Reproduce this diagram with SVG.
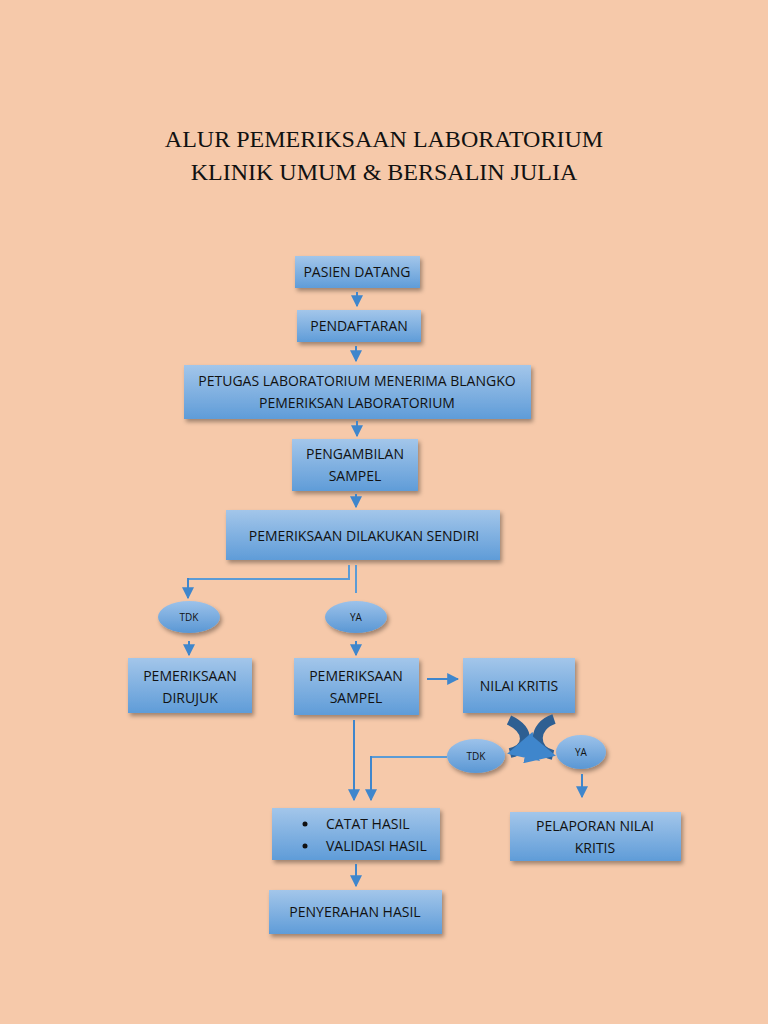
<svg xmlns="http://www.w3.org/2000/svg" width="768" height="1024" viewBox="0 0 768 1024">
<defs>
<linearGradient id="g" x1="0" y1="0" x2="0" y2="1"><stop offset="0" stop-color="#a3c6ea"/><stop offset="1" stop-color="#5f9cd8"/></linearGradient>
<linearGradient id="ge" x1="0" y1="0" x2="0" y2="1"><stop offset="0" stop-color="#9cc2ea"/><stop offset="1" stop-color="#5a97d4"/></linearGradient>
<filter id="sh" x="-10%" y="-10%" width="130%" height="140%"><feDropShadow dx="2" dy="3" stdDeviation="2" flood-color="#000" flood-opacity="0.35"/></filter>
<marker id="a" viewBox="0 0 10 10" refX="9" refY="5" markerWidth="6" markerHeight="6" orient="auto"><path d="M0,0 L10,5 L0,10 z" fill="#3f86cc"/></marker>
<marker id="b" viewBox="0 0 10 10" refX="9" refY="5" markerWidth="3" markerHeight="3" orient="auto"><path d="M0,0 L10,5 L0,10 z" fill="#3f86cc"/></marker>
</defs>
<style>
.box{fill:url(#g);filter:url(#sh)}
.el{fill:url(#ge);filter:url(#sh)}
.t{font-family:"Open Sans","Liberation Sans",sans-serif;font-size:14px;fill:#111;text-anchor:middle}
.s{font-family:"Open Sans","Liberation Sans",sans-serif;font-size:10px;fill:#111;text-anchor:middle}
.ln{stroke:#5b9bd5;stroke-width:2;fill:none}
.ar{stroke:#3f86cc;stroke-width:2;fill:none;marker-end:url(#a)}
.cv{stroke:#2e5f92;stroke-width:10;fill:none;marker-end:url(#b)}
.cvi{stroke:#5b9bd5;stroke-width:7;fill:none}
</style>
<rect width="768" height="1024" fill="#f6c9aa"/>
<text x="384" y="147" font-family="Liberation Serif,serif" font-size="24" text-anchor="middle" fill="#111">ALUR PEMERIKSAAN LABORATORIUM</text>
<text x="384" y="180" font-family="Liberation Serif,serif" font-size="24" text-anchor="middle" fill="#111">KLINIK UMUM &amp; BERSALIN JULIA</text>

<g id="n1"><rect class="box" x="295" y="256" width="125" height="32"/><text class="t" x="357" y="277">PASIEN DATANG</text></g>
<g id="n2"><rect class="box" x="297" y="310" width="124" height="32"/><text class="t" x="359" y="331">PENDAFTARAN</text></g>
<g id="n3"><rect class="box" x="184" y="365" width="347" height="54"/><text class="t" x="357" y="386">PETUGAS LABORATORIUM MENERIMA BLANGKO</text><text class="t" x="357" y="408">PEMERIKSAN LABORATORIUM</text></g>
<g id="n4"><rect class="box" x="292" y="439" width="126" height="52"/><text class="t" x="355" y="459">PENGAMBILAN</text><text class="t" x="355" y="481">SAMPEL</text></g>
<g id="n5"><rect class="box" x="226" y="510" width="274" height="50"/><text class="t" x="364" y="541">PEMERIKSAAN DILAKUKAN  SENDIRI</text></g>
<g id="e1"><ellipse class="el" cx="189" cy="617" rx="31" ry="16"/><text class="s" x="189" y="621">TDK</text></g>
<g id="e2"><ellipse class="el" cx="356" cy="617" rx="31" ry="16"/><text class="s" x="356" y="621">YA</text></g>
<g id="n6"><rect class="box" x="128" y="658" width="124" height="55"/><text class="t" x="190" y="681">PEMERIKSAAN</text><text class="t" x="190" y="703">DIRUJUK</text></g>
<g id="n7"><rect class="box" x="294" y="658" width="125" height="57"/><text class="t" x="356" y="681">PEMERIKSAAN</text><text class="t" x="356" y="703">SAMPEL</text></g>
<g id="n8"><rect class="box" x="463" y="658" width="112" height="55"/><text class="t" x="519" y="691">NILAI KRITIS</text></g>
<g id="e3"><ellipse class="el" cx="476" cy="756" rx="29" ry="17"/><text class="s" x="476" y="760">TDK</text></g>
<g id="e4"><ellipse class="el" cx="581" cy="752" rx="25" ry="17"/><text class="s" x="581" y="756">YA</text></g>
<g id="n9"><rect class="box" x="272" y="808" width="168" height="52"/><circle cx="305" cy="824" r="2.5" fill="#111"/><circle cx="305" cy="846" r="2.5" fill="#111"/><text class="t" x="326" y="829" text-anchor="start" style="text-anchor:start">CATAT HASIL</text><text class="t" x="326" y="851" style="text-anchor:start">VALIDASI HASIL</text></g>
<g id="n10"><rect class="box" x="510" y="812" width="171" height="49"/><text class="t" x="595" y="831">PELAPORAN NILAI</text><text class="t" x="595" y="853">KRITIS</text></g>
<g id="n11"><rect class="box" x="269" y="890" width="173" height="44"/><text class="t" x="355" y="917">PENYERAHAN HASIL</text></g>

<g id="connectors">
<path class="ar" d="M357,292 V306"/>
<path class="ar" d="M356,346 V361"/>
<path class="ar" d="M357,421 V436"/>
<path class="ar" d="M356,494 V507"/>
<path class="ln" d="M349,565 V579 H188"/>
<path class="ar" d="M188,578 V598"/>
<path class="ln" d="M356,565 V593"/>
<path class="ar" d="M189,641 V655"/>
<path class="ar" d="M356,641 V655"/>
<path class="ar" d="M427,679 H458"/>
<path class="ar" d="M354,720 V800"/>
<path class="ln" d="M447,757 H371"/>
<path class="ar" d="M371,756 V800"/>
<path class="ar" d="M582,774 V797"/>
<path class="ar" d="M356,864 V886"/>
<path class="cv" d="M509,720 C530,730 530,748 510,753"/>
<path class="cv" d="M554,719 C533,726 532,750 553,755"/>
</g>
</svg>
